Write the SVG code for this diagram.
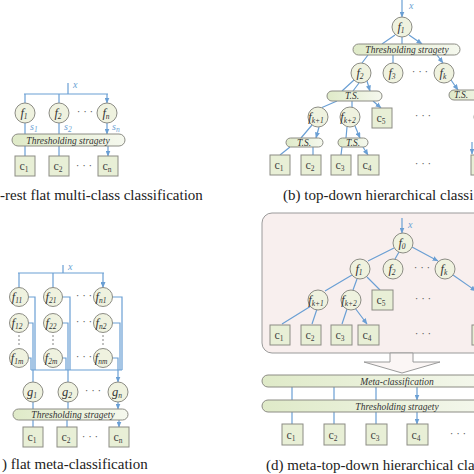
<svg xmlns="http://www.w3.org/2000/svg" width="474" height="474" viewBox="0 0 474 474">
<style>
.c{fill:#eff2df;stroke:#8c8c84;stroke-width:1}
.b{fill:#e8efd6;stroke:#8c8c84;stroke-width:1}
.bar{fill:url(#bg);stroke:#8c8c84;stroke-width:1}
.ln{stroke:#6a9fd4;stroke-width:1.2;fill:none}
.ar{stroke:#6a9fd4;stroke-width:1.2;fill:none;marker-end:url(#ah)}
.f{font-family:"Liberation Serif",serif;font-style:italic;font-size:12.5px;fill:#333;text-anchor:middle}
.s{font-size:7.5px}
.cb{font-family:"Liberation Serif",serif;font-size:12px;fill:#444;text-anchor:middle}
.t{font-family:"Liberation Serif",serif;font-style:italic;font-size:9.5px;fill:#333;text-anchor:middle}
.x{font-family:"Liberation Serif",serif;font-style:italic;font-size:10px;fill:#6a9fd4}
.d{font-family:"Liberation Serif",serif;font-size:11px;fill:#555;text-anchor:middle}
.cap{font-family:"Liberation Serif",serif;font-size:15px;fill:#222}
</style>
<defs>
<linearGradient id="bg" x1="0" y1="0" x2="1" y2="0">
<stop offset="0" stop-color="#dfeac8"/><stop offset="1" stop-color="#f5f8ee"/>
</linearGradient>
<marker id="ah" markerUnits="userSpaceOnUse" markerWidth="6" markerHeight="5" refX="5.5" refY="2.5" orient="auto">
<path d="M0,0 L6,2.5 L0,5 z" fill="#6a9fd4"/>
</marker>
</defs>

<!-- Panel (d) background -->
<rect id="meta-tree-frame" x="262" y="213" width="232" height="140" rx="10" fill="#f8efee" stroke="#9a9a9a" stroke-width="1"/>

<g id="connectors">
<!-- (a) -->
<path class="ln" d="M68,83 V94 M24,94 H108"/>
<path class="ar" d="M25,94 V103 M59,94 V103 M107,94 V103"/>
<path class="ar" d="M25,123 V134 M59,123 V134 M107,123 V134"/>
<path class="ar" d="M25,146 V156 M59,146 V156 M108,146 V156"/>
<!-- (b) -->
<path class="ar" d="M402,0 V17"/>
<path class="ar" d="M395,35 L382,44 M402,37 V44 M409,35 L422,44"/>
<path class="ar" d="M368,55 L362,63 M393,55 V63 M437,55 L443,63"/>
<path class="ar" d="M451,80 L458,90"/>
<path class="ar" d="M354,80 L342,91 M359,83 L353,91 M367,81 L370,91"/>
<path class="ar" d="M337,101 L322,107.5 M352,101 V107 M373,101 L381,108"/>
<path class="ar" d="M312,125 L301,138 M319,127 L316,138"/>
<path class="ar" d="M347,127 L346,138 M355,126 L360,138"/>
<path class="ar" d="M290,147 L280,155 M313,147 V155 M342,147 L341,155 M363,147 L368,155"/>
<path class="ar" d="M472,142 V154"/>
<!-- (d) -->
<path class="ar" d="M402,218 V233"/>
<path class="ar" d="M394,248 L368,261 M399,252 L395,259 M412,247 L438,261"/>
<path class="ar" d="M352,275 L325,291 M357,279 L353,290 M367,277 L380,290 M453,275 L476,291"/>
<path class="ar" d="M311,306 L282,324 M317,309 L312,324 M347,309 L342,324 M355,308 L367,324"/>
<path class="ar" d="M292,387 V400 M334,387 V400 M376,387 V400 M417,387 V400"/>
<path class="ar" d="M292,412 V424 M334,412 V424 M376,412 V424 M417,412 V424"/>
<!-- (c) -->
<path class="ln" d="M63,265 V273 M18,273 H104"/>
<path class="ar" d="M19,273 V287.5 M53,273 V287.5 M103,273 V287.5"/>
<path class="ln" d="M28.5,297 H35 V370 M28.5,323 H33 V370 M28.5,358 H31 V370"/>
<path class="ln" d="M62.5,297 H70 V370 M62.5,323 H68 V370 M62.5,358 H66 V370"/>
<path class="ln" d="M112.5,297 H122 V370 M112.5,323 H120 V370 M112.5,358 H118 V370"/>
<path class="ln" d="M31,370 H122"/>
<path class="ar" d="M33,370 V382 M68,370 V382 M118,370 V382"/>
<path class="ar" d="M33,402 V409 M68,402 V409 M118,402 V409"/>
<path class="ar" d="M33,420 V427 M67,420 V427 M119,420 V427"/>
</g>

<!-- ===== Panel (a) ===== -->
<text class="x" x="73" y="88">x</text>
<g id="a-f1"><circle class="c" cx="25" cy="113" r="10"/><text class="f" x="24" y="117">f<tspan class="s" dy="2">1</tspan></text></g>
<g id="a-f2"><circle class="c" cx="59" cy="113" r="10"/><text class="f" x="58" y="117">f<tspan class="s" dy="2">2</tspan></text></g>
<g id="a-fn"><circle class="c" cx="107" cy="113" r="10"/><text class="f" x="106" y="117">f<tspan class="s" dy="2">n</tspan></text></g>
<text class="d" x="85" y="115">· · ·</text>
<text class="x" x="30" y="130" font-size="9">s<tspan class="s" dy="2">1</tspan></text>
<text class="x" x="64" y="130" font-size="9">s<tspan class="s" dy="2">2</tspan></text>
<text class="x" x="112" y="130" font-size="9">s<tspan class="s" dy="2">n</tspan></text>
<g id="a-ts"><rect class="bar" x="12" y="134" width="113" height="12" rx="6"/><text class="t" x="68" y="143.5">Thresholding stragety</text></g>
<g id="a-c1"><rect class="b" x="15" y="156" width="20" height="20"/><text class="cb" x="24" y="169.5">c<tspan class="s" dy="2">1</tspan></text></g>
<g id="a-c2"><rect class="b" x="49" y="156" width="20" height="20"/><text class="cb" x="58" y="169.5">c<tspan class="s" dy="2">2</tspan></text></g>
<g id="a-cn"><rect class="b" x="98" y="156" width="20" height="20"/><text class="cb" x="107" y="169.5">c<tspan class="s" dy="2">n</tspan></text></g>
<text class="d" x="84" y="169">· · ·</text>
<text class="cap" x="0" y="200">-rest flat multi-class classification</text>

<!-- ===== Panel (b) ===== -->
<text class="x" x="409" y="9">x</text>
<g id="b-f1"><circle class="c" cx="402" cy="27" r="10"/><text class="f" x="401" y="31">f<tspan class="s" dy="2">1</tspan></text></g>
<g id="b-ts1"><rect class="bar" x="353" y="44" width="107" height="11" rx="5.5"/><text class="t" x="407" y="52.5">Thresholding stragety</text></g>
<g id="b-f2"><circle class="c" cx="361" cy="73" r="10"/><text class="f" x="360" y="77">f<tspan class="s" dy="2">2</tspan></text></g>
<g id="b-f3"><circle class="c" cx="393" cy="73" r="10"/><text class="f" x="392" y="77">f<tspan class="s" dy="2">3</tspan></text></g>
<g id="b-fk"><circle class="c" cx="444" cy="73" r="10"/><text class="f" x="443" y="77">f<tspan class="s" dy="2">k</tspan></text></g>
<text class="d" x="420" y="75">· · ·</text>
<g id="b-ts2"><rect class="bar" x="327" y="91" width="55" height="10" rx="5"/><text class="t" x="352" y="99">T.S.</text></g>
<g id="b-ts3"><rect class="bar" x="449" y="90" width="40" height="10" rx="5"/><text class="t" x="461" y="98">T.S.</text></g>
<g id="b-fk1"><circle class="c" cx="318" cy="117" r="10"/><text class="f" x="316" y="121">f<tspan class="s" dy="2">k+1</tspan></text></g>
<g id="b-fk2"><circle class="c" cx="350" cy="117" r="10"/><text class="f" x="348" y="121">f<tspan class="s" dy="2">k+2</tspan></text></g>
<g id="b-c5"><rect class="b" x="372" y="108" width="20" height="20"/><text class="cb" x="381" y="121.5">c<tspan class="s" dy="2">5</tspan></text></g>
<text class="d" x="423" y="119">· · ·</text>
<g id="b-fr"><circle class="c" cx="484" cy="117" r="10"/></g>
<g id="b-ts4"><rect class="bar" x="286" y="138" width="37" height="9" rx="4.5"/><text class="t" x="304" y="145.5">T.S.</text></g>
<g id="b-ts5"><rect class="bar" x="338" y="138" width="30" height="9" rx="4.5"/><text class="t" x="353" y="145.5">T.S.</text></g>
<g id="b-c1"><rect class="b" x="270" y="155" width="20" height="20"/><text class="cb" x="279" y="168.5">c<tspan class="s" dy="2">1</tspan></text></g>
<g id="b-c2"><rect class="b" x="301" y="155" width="20" height="20"/><text class="cb" x="310" y="168.5">c<tspan class="s" dy="2">2</tspan></text></g>
<g id="b-c3"><rect class="b" x="331" y="155" width="20" height="20"/><text class="cb" x="340" y="168.5">c<tspan class="s" dy="2">3</tspan></text></g>
<g id="b-c4"><rect class="b" x="358" y="155" width="21" height="20"/><text class="cb" x="367" y="168.5">c<tspan class="s" dy="2">4</tspan></text></g>
<text class="d" x="423" y="167">· · ·</text>
<g id="b-cr"><rect class="b" x="471" y="155" width="20" height="20"/></g>
<text class="cap" x="283" y="200" font-size="14.8">(b) top-down hierarchical classi</text>

<!-- ===== Panel (d) ===== -->
<text class="x" x="408" y="228">x</text>
<g id="d-f0"><circle class="c" cx="403" cy="243" r="10"/><text class="f" x="402" y="247">f<tspan class="s" dy="2">0</tspan></text></g>
<g id="d-f1"><circle class="c" cx="360" cy="269" r="10"/><text class="f" x="359" y="273">f<tspan class="s" dy="2">1</tspan></text></g>
<g id="d-f2"><circle class="c" cx="393" cy="269" r="10"/><text class="f" x="392" y="273">f<tspan class="s" dy="2">2</tspan></text></g>
<g id="d-fk"><circle class="c" cx="445" cy="269" r="10"/><text class="f" x="444" y="273">f<tspan class="s" dy="2">k</tspan></text></g>
<text class="d" x="422" y="271">· · ·</text>
<g id="d-fk1"><circle class="c" cx="318" cy="300" r="10"/><text class="f" x="316" y="304">f<tspan class="s" dy="2">k+1</tspan></text></g>
<g id="d-fk2"><circle class="c" cx="351" cy="300" r="10"/><text class="f" x="349" y="304">f<tspan class="s" dy="2">k+2</tspan></text></g>
<g id="d-c5"><rect class="b" x="372" y="290" width="21" height="20"/><text class="cb" x="381" y="303.5">c<tspan class="s" dy="2">5</tspan></text></g>
<text class="d" x="423" y="302">· · ·</text>
<g id="d-fr"><circle class="c" cx="485" cy="300" r="10"/></g>
<g id="d-c1"><rect class="b" x="270" y="325" width="20" height="20"/><text class="cb" x="279" y="338.5">c<tspan class="s" dy="2">1</tspan></text></g>
<g id="d-c2"><rect class="b" x="301" y="325" width="20" height="20"/><text class="cb" x="310" y="338.5">c<tspan class="s" dy="2">2</tspan></text></g>
<g id="d-c3"><rect class="b" x="331" y="325" width="21" height="20"/><text class="cb" x="340" y="338.5">c<tspan class="s" dy="2">3</tspan></text></g>
<g id="d-c4"><rect class="b" x="358" y="325" width="21" height="20"/><text class="cb" x="367" y="338.5">c<tspan class="s" dy="2">4</tspan></text></g>
<text class="d" x="423" y="337">· · ·</text>
<g id="d-cr"><rect class="b" x="472" y="325" width="20" height="20"/></g>
<g id="d-blockarrow"><polygon points="390,353 413,353 413,362 440,362 402,373 364,362 390,362" fill="#fbf6f5" stroke="#9a9a9a" stroke-width="1"/></g>
<g id="d-meta"><rect class="bar" x="262" y="375" width="232" height="12" rx="6"/><text class="t" x="397" y="384.5">Meta-classification</text></g>
<g id="d-ts"><rect class="bar" x="262" y="400" width="232" height="12" rx="6"/><text class="t" x="397" y="409.5">Thresholding stragety</text></g>
<g id="d-oc1"><rect class="b" x="282" y="424" width="21" height="21"/><text class="cb" x="291" y="438.5">c<tspan class="s" dy="2">1</tspan></text></g>
<g id="d-oc2"><rect class="b" x="324" y="424" width="21" height="21"/><text class="cb" x="333" y="438.5">c<tspan class="s" dy="2">2</tspan></text></g>
<g id="d-oc3"><rect class="b" x="366" y="424" width="21" height="21"/><text class="cb" x="375" y="438.5">c<tspan class="s" dy="2">3</tspan></text></g>
<g id="d-oc4"><rect class="b" x="407" y="424" width="21" height="21"/><text class="cb" x="416" y="438.5">c<tspan class="s" dy="2">4</tspan></text></g>
<text class="d" x="458" y="437">· · ·</text>
<text class="cap" x="266" y="470" font-size="14.5">(d) meta-top-down hierarchical cla</text>

<!-- ===== Panel (c) ===== -->
<text class="x" x="68" y="270">x</text>
<g id="c-f11"><circle class="c" cx="19" cy="297" r="9.5"/><text class="f" x="17" y="301">f<tspan class="s" dy="2">11</tspan></text></g>
<g id="c-f12"><circle class="c" cx="19" cy="323" r="9.5"/><text class="f" x="17" y="327">f<tspan class="s" dy="2">12</tspan></text></g>
<g id="c-f1m"><circle class="c" cx="19" cy="358" r="9.5"/><text class="f" x="17" y="362">f<tspan class="s" dy="2">1m</tspan></text></g>
<g id="c-f21"><circle class="c" cx="53" cy="297" r="9.5"/><text class="f" x="51" y="301">f<tspan class="s" dy="2">21</tspan></text></g>
<g id="c-f22"><circle class="c" cx="53" cy="323" r="9.5"/><text class="f" x="51" y="327">f<tspan class="s" dy="2">22</tspan></text></g>
<g id="c-f2m"><circle class="c" cx="53" cy="358" r="9.5"/><text class="f" x="51" y="362">f<tspan class="s" dy="2">2m</tspan></text></g>
<g id="c-fn1"><circle class="c" cx="103" cy="297" r="9.5"/><text class="f" x="101" y="301">f<tspan class="s" dy="2">n1</tspan></text></g>
<g id="c-fn2"><circle class="c" cx="103" cy="323" r="9.5"/><text class="f" x="101" y="327">f<tspan class="s" dy="2">n2</tspan></text></g>
<g id="c-fnm"><circle class="c" cx="103" cy="358" r="9.5"/><text class="f" x="101" y="362">f<tspan class="s" dy="2">nm</tspan></text></g>
<g fill="#555">
<circle cx="19" cy="336" r="0.7"/><circle cx="19" cy="340" r="0.7"/><circle cx="19" cy="344" r="0.7"/>
<circle cx="53" cy="336" r="0.7"/><circle cx="53" cy="340" r="0.7"/><circle cx="53" cy="344" r="0.7"/>
<circle cx="103" cy="336" r="0.7"/><circle cx="103" cy="340" r="0.7"/><circle cx="103" cy="344" r="0.7"/>
</g>
<text class="d" x="84" y="299">· · ·</text>
<text class="d" x="84" y="325">· · ·</text>
<text class="d" x="84" y="360">· · ·</text>
<g id="c-g1"><circle class="c" cx="33" cy="392" r="10"/><text class="f" x="32" y="396">g<tspan class="s" dy="2">1</tspan></text></g>
<g id="c-g2"><circle class="c" cx="68" cy="392" r="10"/><text class="f" x="67" y="396">g<tspan class="s" dy="2">2</tspan></text></g>
<g id="c-gn"><circle class="c" cx="118" cy="392" r="10"/><text class="f" x="117" y="396">g<tspan class="s" dy="2">n</tspan></text></g>
<text class="d" x="93" y="394">· · ·</text>
<g id="c-ts"><rect class="bar" x="13" y="409" width="115" height="11" rx="5.5"/><text class="t" x="73" y="417.5">Thresholding stragety</text></g>
<g id="c-c1"><rect class="b" x="23" y="427" width="20" height="20"/><text class="cb" x="32" y="440.5">c<tspan class="s" dy="2">1</tspan></text></g>
<g id="c-c2"><rect class="b" x="57" y="427" width="20" height="20"/><text class="cb" x="66" y="440.5">c<tspan class="s" dy="2">2</tspan></text></g>
<g id="c-cn"><rect class="b" x="109" y="427" width="20" height="20"/><text class="cb" x="118" y="440.5">c<tspan class="s" dy="2">n</tspan></text></g>
<text class="d" x="90" y="440">· · ·</text>
<text class="cap" x="2" y="469">) flat meta-classification</text>
</svg>
